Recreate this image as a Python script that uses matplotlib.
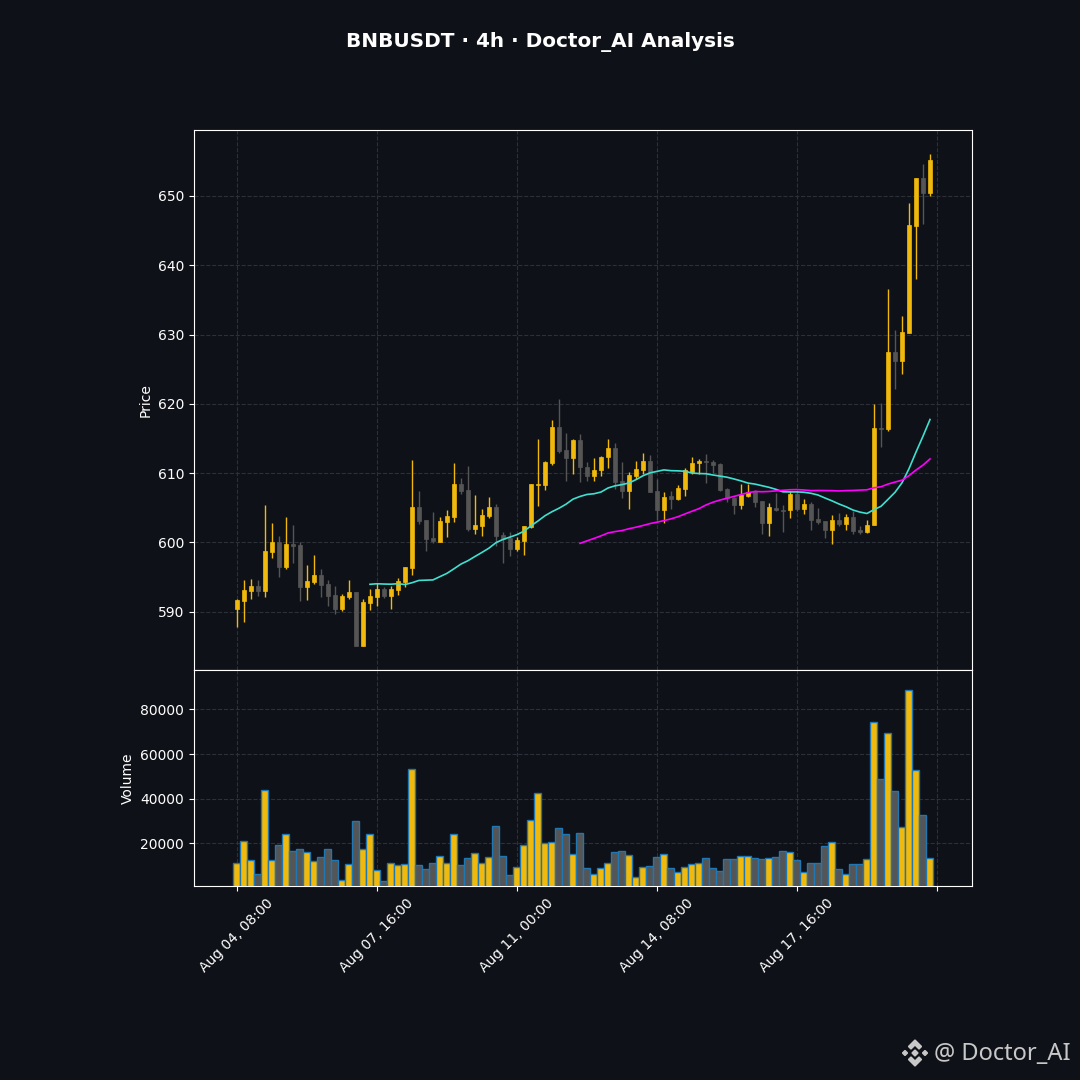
import matplotlib.pyplot as plt
from matplotlib.patches import Rectangle, Polygon
import pandas as pd

# 4h candles
opens = [590.34, 591.55, 593.0, 593.67, 592.95, 598.6, 600.05, 596.43, 599.76, 599.6,
         593.6, 594.3, 595.27, 593.96, 592.37, 590.34, 592.13, 592.8, 585.12, 591.26,
         592.13, 593.24, 592.27, 593.19, 594.3, 596.33, 605.12, 603.24, 600.63, 600.14,
         602.95, 603.72, 608.45, 607.58, 601.98, 602.42, 603.86, 605.12, 601.06, 600.63,
         599.08, 600.24, 602.27, 608.31, 608.31, 611.5, 616.71, 613.29, 612.13, 614.83,
         610.87, 609.66, 610.39, 612.27, 613.67, 608.89, 607.49, 609.61, 610.48, 611.79,
         607.44, 604.69, 606.71, 606.28, 607.73, 610.24, 611.4, 611.79, 611.64, 611.35,
         607.73, 606.47, 605.41, 606.76, 607.44, 605.99, 602.85, 604.99, 604.7, 604.7,
         607.02, 604.85, 605.52, 603.4, 603.11, 601.86, 603.26, 602.73, 603.69, 601.86,
         601.57, 602.53, 616.57, 616.33, 627.42, 626.17, 630.22, 645.7, 652.6, 650.48]
highs = [591.88, 594.54, 594.8, 594.64, 605.4, 602.75, 600.9, 603.67, 602.5, 600.0,
         596.8, 598.16, 596.14, 594.54, 593.67, 592.61, 594.54, 592.9, 591.8, 593.33,
         594.15, 593.6, 593.67, 594.93, 596.5, 611.88, 607.44, 603.3, 604.35, 603.67,
         604.64, 611.45, 609.28, 611.01, 606.86, 604.78, 606.52, 605.56, 601.55, 601.5,
         600.82, 602.4, 608.5, 614.93, 611.79, 617.68, 620.63, 615.85, 614.9, 615.65,
         611.59, 612.17, 612.46, 614.93, 614.35, 611.59, 610.1, 611.74, 612.9, 612.61,
         609.23, 607.29, 607.44, 608.26, 610.72, 612.32, 612.08, 612.8, 611.93, 611.4,
         607.92, 606.5, 608.41, 608.45, 607.58, 606.0, 605.7, 607.07, 605.43, 607.45,
         607.45, 606.25, 605.86, 605.0, 603.15, 603.98, 604.27, 604.08, 604.56, 602.34,
         603.26, 620.0, 620.19, 636.5, 630.61, 632.63, 648.94, 652.6, 654.63, 656.08]
lows = [587.87, 588.5, 591.9, 592.3, 592.13, 597.83, 595.0, 596.2, 597.1, 591.55,
        591.74, 593.96, 592.13, 590.82, 589.71, 590.1, 591.8, 585.0, 585.0, 590.2,
        590.82, 592.0, 590.43, 592.46, 593.62, 595.27, 602.61, 598.8, 599.95, 600.0,
        600.82, 603.0, 607.05, 601.7, 601.16, 600.87, 603.48, 599.52, 597.1, 598.07,
        598.84, 598.26, 602.13, 605.31, 607.63, 611.16, 612.85, 608.94, 609.86, 608.7,
        608.94, 608.89, 609.66, 610.68, 607.73, 606.47, 604.88, 609.23, 609.95, 607.3,
        603.24, 602.85, 604.83, 606.14, 606.76, 609.9, 609.95, 608.65, 610.0, 607.44,
        605.85, 604.15, 604.78, 606.62, 605.17, 601.26, 600.87, 604.56, 601.57, 603.6,
        604.56, 604.08, 601.86, 602.73, 600.7, 599.73, 602.39, 601.86, 601.18, 601.18,
        601.42, 602.5, 613.72, 616.04, 622.17, 624.34, 630.2, 638.04, 645.9, 650.05]
closes = [591.64, 593.1, 593.67, 593.0, 598.74, 600.05, 596.43, 599.76, 599.47, 593.6,
          594.4, 595.27, 593.87, 592.27, 590.34, 592.22, 592.8, 585.12, 591.35, 592.22,
          593.24, 592.27, 593.24, 594.4, 596.43, 605.12, 603.14, 600.53, 600.2, 603.1,
          603.82, 608.45, 607.49, 601.98, 602.51, 603.96, 605.12, 600.97, 600.53, 599.08,
          600.29, 602.37, 608.45, 608.45, 611.64, 616.71, 613.14, 612.13, 614.83, 610.82,
          609.66, 610.48, 612.37, 613.67, 608.79, 607.49, 609.76, 610.63, 611.79, 607.34,
          604.69, 606.57, 606.28, 607.87, 610.48, 611.5, 611.79, 611.55, 611.21, 607.58,
          606.47, 605.41, 606.86, 607.34, 605.85, 602.85, 605.12, 604.7, 604.6, 607.02,
          604.85, 605.52, 603.3, 602.97, 601.86, 603.26, 602.73, 603.69, 601.66, 601.57,
          602.53, 616.57, 616.33, 627.42, 626.17, 630.32, 645.8, 652.6, 650.48, 655.21]
volumes = [11078, 21190, 12714, 6171, 44090, 12714, 19108, 24312, 16431, 17324,
           15985, 12268, 13755, 17324, 12416, 3792, 10632, 30260, 17324, 24015,
           7955, 3197, 11078, 10186, 10632, 53458, 10186, 8402, 11078, 14201,
           11078, 24312, 10186, 13309, 15539, 11078, 13755, 28030, 14201, 5725,
           9294, 19108, 30707, 42751, 20000, 20446, 27138, 24015, 15093, 24461,
           8848, 6171, 8848, 11078, 15985, 16431, 14647, 5130, 9294, 9740,
           13755, 15093, 8848, 7063, 9294, 10632, 11078, 13309, 8848, 7509,
           12863, 12863, 14201, 14201, 13309, 12863, 13309, 13755, 16431, 15985,
           12416, 7063, 11078, 11078, 18662, 20446, 8402, 6171, 10632, 10632,
           12863, 74424, 48699, 69517, 43346, 27584, 88700, 53012, 32640, 13309]
tick_pos = [0, 20, 40, 60, 80, 100]
tick_labels = ["Aug 04, 08:00", "Aug 07, 16:00", "Aug 11, 00:00",
               "Aug 14, 08:00", "Aug 17, 16:00", ""]

bg = "#0e1117"
up_col = "#f0b90b"
down_col = "#555555"
grid_col = "#2c3039"

# moving averages shown on the chart (20 and 50 period SMA of closes)
ma20 = pd.Series(closes).rolling(20).mean()
ma50 = pd.Series(closes).rolling(50).mean()

fig = plt.figure(figsize=(10.8, 10.8), dpi=100, facecolor=bg)
ax1 = fig.add_axes([0.1796, 0.3796, 0.7204, 0.5])
ax2 = fig.add_axes([0.1796, 0.1796, 0.7204, 0.2], sharex=ax1)

for ax in (ax1, ax2):
    ax.set_facecolor(bg)
    for s in ax.spines.values():
        s.set_color("white")
    ax.tick_params(colors="white", labelsize=10)
    ax.grid(True, linestyle="--", color=grid_col, linewidth=0.8)
    ax.set_axisbelow(True)

for i in range(len(closes)):
    o, h, l, c = opens[i], highs[i], lows[i], closes[i]
    col = up_col if c >= o else down_col
    ax1.vlines(i, l, h, color=col, linewidth=1, zorder=2)
    ax1.add_patch(Rectangle((i - 0.3, min(o, c)), 0.6, max(abs(c - o), 0.05),
                            facecolor=col, edgecolor=col, linewidth=0.5, zorder=3))

ax1.plot(range(len(closes)), ma20, color="#40e0d0", linewidth=1.2, zorder=4)
ax1.plot(range(len(closes)), ma50, color="#ff00ff", linewidth=1.2, zorder=4)
ax1.set_ylim(581.6, 659.5)
ax1.set_ylabel("Price", color="white", fontsize=10)
ax1.tick_params(axis="x", labelbottom=False, length=0)

vcols = [up_col if closes[i] >= opens[i] else down_col for i in range(len(closes))]
ax2.bar(range(len(volumes)), volumes, width=1.0, color=vcols,
        edgecolor="#1f77b4", linewidth=1, zorder=3)
ax2.set_ylim(0.3 * min(volumes), 1.1 * max(volumes))
ax2.set_ylabel("Volume", color="white", fontsize=10)

ax2.set_xlim(-6.14, 105)
ax2.set_xticks(tick_pos)
ax2.set_xticklabels(tick_labels, rotation=45, ha="center")

fig.suptitle("BNBUSDT · 4h · Doctor_AI Analysis", color="white",
             fontsize=14.4, fontweight="bold", y=0.9704)

# watermark: small Binance-style mark + handle
wm = "#c8c8c8"
axl = fig.add_axes([901 / 1080, 1 - 1067 / 1080, 28 / 1080, 28 / 1080])
axl.set_xlim(0, 28)
axl.set_ylim(0, 28)
axl.axis("off")
axl.add_patch(Polygon([(14, 17), (17, 14), (14, 11), (11, 14)], color=wm))
axl.add_patch(Polygon([(4, 16.5), (6.5, 14), (4, 11.5), (1.5, 14)], color=wm))
axl.add_patch(Polygon([(24, 16.5), (26.5, 14), (24, 11.5), (21.5, 14)], color=wm))
axl.add_patch(Polygon([(14, 27), (20.5, 20.5), (18, 18), (14, 22), (10, 18), (7.5, 20.5)], color=wm))
axl.add_patch(Polygon([(14, 1), (20.5, 7.5), (18, 10), (14, 6), (10, 10), (7.5, 7.5)], color=wm))
fig.text(934 / 1080, 1 - 1054 / 1080, "@ Doctor_AI", color=wm, fontsize=17,
         family="Noto Sans", ha="left", va="center")

fig.savefig("out.png", dpi=100, facecolor=bg)
